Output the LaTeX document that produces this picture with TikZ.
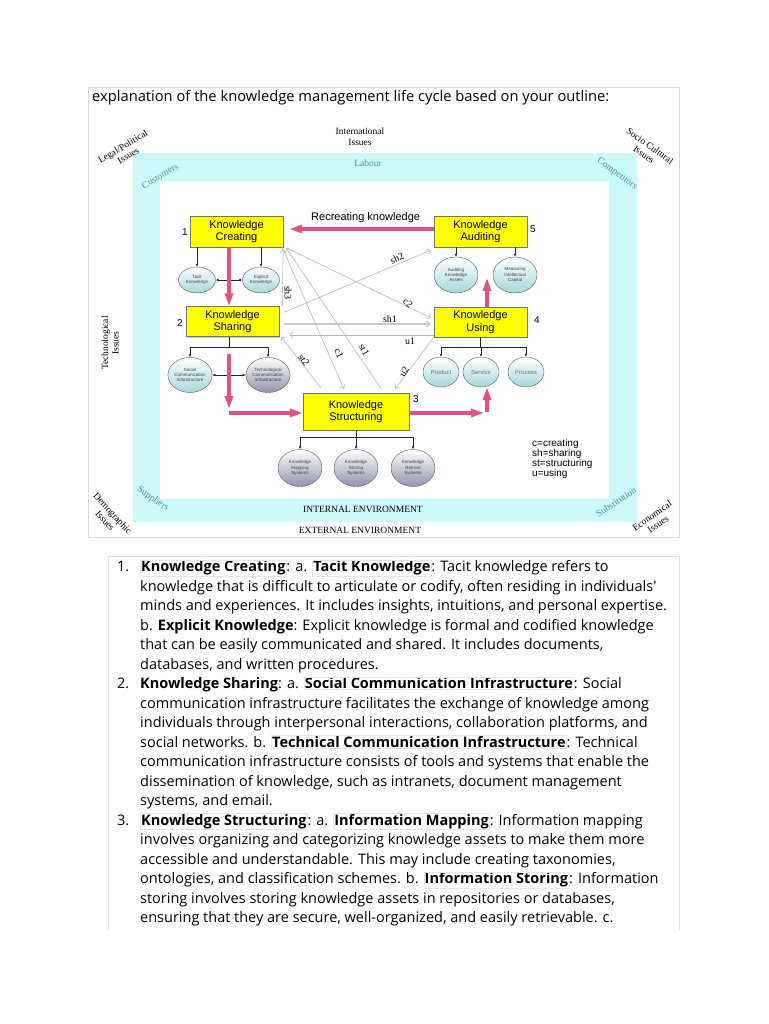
\documentclass[tikz,border=0pt]{standalone}
\usepackage{fontspec}
\setmainfont{Open Sans}
\newfontfamily\arialf{Liberation Sans}
\newfontfamily\timesf{Liberation Serif}
\usetikzlibrary{arrows.meta, shadows, shapes.geometric, positioning}
\definecolor{kyellow}{RGB}{255,255,0}
\definecolor{kpink}{RGB}{229,80,128}
\definecolor{kcyan}{RGB}{204,250,250}
\definecolor{kteal}{RGB}{70,145,170}
\definecolor{kbulb}{RGB}{165,215,218}
\definecolor{kslate}{RGB}{145,148,172}
\newcommand{\hlt}[1]{{\fboxsep=0.6pt\fboxrule=0.4pt\fcolorbox{black!10}{white}{\textbf{#1}}}}
\newcommand{\itemno}[1]{\llap{#1\hspace{11pt}}}

\begin{document}
\begin{tikzpicture}[x=1pt,y=-1pt,
  kbox/.style={draw=black!55, fill=kyellow, minimum width=93pt, minimum height=31pt, inner sep=0pt, align=center,
    font=\arialf\fontsize{11}{12.5}\selectfont, drop shadow={shadow xshift=1.2pt,shadow yshift=-1.2pt,opacity=.35}},
  bulb/.style={ellipse, draw=black!65, top color=white, bottom color=kbulb, minimum width=37pt, minimum height=26pt,
    inner sep=0pt, align=center, font=\arialf\fontsize{4.5}{5.2}\selectfont, text=black!75},
  slate/.style={bulb, bottom color=kslate},
  pinkarr/.style={kpink, line width=3.2pt, -{Triangle[length=13pt,width=8pt]}},
  thin/.style={black!85, line width=0.5pt, -{Latex[length=3pt,width=2.6pt]}},
  biarr/.style={black!85, line width=0.5pt, {Latex[length=3pt,width=2.6pt]}-{Latex[length=3pt,width=2.6pt]}},
  grayarr/.style={black!28, line width=0.6pt, -{Straight Barb[length=3.5pt,width=6pt]}},
  lbl/.style={font=\timesf\fontsize{10}{10}\selectfont, inner sep=0pt},
  num/.style={font=\arialf\fontsize{10}{10}\selectfont, inner sep=0pt},
  issue/.style={font=\timesf\fontsize{9.5}{10.5}\selectfont, align=center, inner sep=0pt},
  band/.style={issue, text=kteal}]
\fill[white] (0,0) rectangle (768,1024);
\useasboundingbox (0,0) rectangle (768,1024);

% upper frame
\draw[black!15] (88,87) rectangle (679,537);
\node[anchor=west, inner sep=0pt, font=\fontsize{14.7}{17}\selectfont] (title) at (92,98)
  {explanation of the knowledge management life cycle based on your outline:};

% environment band
\fill[kcyan] (133,153) rectangle (637,522);
\fill[white] (160,181) rectangle (609,499);

\node[issue] (intl) at (360,137) {International\\Issues};
\node[issue, rotate=31] (legal) at (125.5,151) {Legal/Political\\Issues};
\node[issue, rotate=-36] (socio) at (647,150) {Socio Cultural\\Issues};
\node[issue, rotate=90] (techi) at (110,343) {Technological\\Issues};
\node[issue, rotate=-47] (demo) at (109,517) {Demographic\\Issues};
\node[issue, rotate=35] (econ) at (655,520) {Economical\\Issues};
\node[band] (labour) at (368,163) {Labour};
\node[band, rotate=31] (cust) at (160,176) {Customers};
\node[band, rotate=-36] (comp) at (617,174) {Competitors};
\node[band, rotate=-34] (supp) at (153,499) {Suppliers};
\node[band, rotate=33] (subst) at (616,502) {Substitution};
\node[issue] (internal) at (363,509) {INTERNAL ENVIRONMENT};
\node[issue] (external) at (360,530) {EXTERNAL ENVIRONMENT};

% life cycle stages
\node[kbox] (create) at (236.5,231.5) {Knowledge\\Creating};
\node[kbox] (audit) at (480.5,231.5) {Knowledge\\Auditing};
\node[kbox, minimum height=30pt] (share) at (232.5,321.5) {Knowledge\\Sharing};
\node[kbox, minimum height=30pt] (use) at (480.5,322) {Knowledge\\Using};
\node[kbox, minimum width=106pt, minimum height=37pt] (struct) at (356,411.5) {Knowledge\\Structuring};
\node[num] (n1) at (185,232) {1};
\node[num] (n2) at (180,323) {2};
\node[num] (n3) at (416,399) {3};
\node[num] (n4) at (537,320) {4};
\node[num] (n5) at (533,229) {5};

% sub elements
\node[bulb] (tacit) at (197,280) {Tacit\\Knowledge};
\node[bulb] (explicit) at (261,280) {Explicit\\Knowledge};
\node[bulb, minimum width=42pt, minimum height=35pt] (social) at (190,375) {Social\\Communication\\Infrastructure};
\node[slate, minimum width=42pt, minimum height=35pt] (techno) at (268,375) {Technological\\Communication\\Infrastructure};
\node[bulb, minimum width=44pt, minimum height=36pt] (assets) at (456,275) {Auditing\\Knowledge\\Assets};
\node[bulb, minimum width=44pt, minimum height=36pt] (capital) at (515,275) {Measuring\\Intellectual\\Capital};
\node[bulb, minimum width=36pt, minimum height=30pt, font=\arialf\fontsize{6}{7}\selectfont, text=black!55] (product) at (441,372) {Product};
\node[bulb, minimum width=36pt, minimum height=30pt, font=\arialf\fontsize{6}{7}\selectfont, text=black!55] (service) at (481,372) {Service};
\node[bulb, minimum width=36pt, minimum height=30pt, font=\arialf\fontsize{6}{7}\selectfont, text=black!55] (process) at (526,372) {Process};
\node[slate, minimum width=44pt, minimum height=37pt] (mapping) at (300,468) {Knowledge\\Mapping\\Systems};
\node[slate, minimum width=44pt, minimum height=37pt] (storing) at (356,468) {Knowledge\\Storing\\Systems};
\node[slate, minimum width=44pt, minimum height=37pt] (retrival) at (413,468) {Knowledge\\Retrival\\Systems};

% branches
\draw[thin] (create.south -| tacit) -- (tacit);
\draw[thin] (create.south -| explicit) -- (explicit);
\draw[biarr] (tacit) -- (explicit);
\draw[thin] (audit.south -| assets) -- (assets);
\draw[thin] (audit.south -| capital) -- (capital);
\coordinate (sj) at (229,347);
\draw[black!85, line width=0.5pt] ([xshift=-3.5pt]share.south) -- (sj);
\draw[thin] (sj) -| (social.north);
\draw[thin] (sj) -| (techno.north);
\draw[biarr] (social) -- (techno);
\coordinate (uj) at (480.5,347);
\draw[black!85, line width=0.5pt] (use.south) -- (uj);
\draw[thin] (uj) -| (product.north);
\draw[thin] (uj) -| (service.north);
\draw[thin] (uj) -| (process.north);
\coordinate (tj) at (356,437);
\draw[black!85, line width=0.5pt] (struct.south) -- (tj);
\draw[thin] (tj) -| (mapping.north);
\draw[thin] (tj) -- (storing.north);
\draw[thin] (tj) -| (retrival.north);

% main flow
\draw[pinkarr] ([xshift=-7.5pt]create.south) -- ([xshift=-3.5pt]share.north);
\coordinate (bend) at (229,413);
\draw[pinkarr] ([xshift=-3.5pt,yshift=-17pt]share.south) -- ([yshift=4pt]bend);
\draw[pinkarr] (bend) -- ([yshift=-1.5pt]struct.west);
\coordinate (rise) at (487,413);
\draw[pinkarr] ([yshift=-1.5pt]struct.east) -- ([xshift=-3pt]rise);
\draw[pinkarr] ([yshift=1.5pt]rise) -- (rise |- service.south);
\draw[pinkarr] ([xshift=6.5pt]use.north) -- ([xshift=6.5pt,yshift=29pt]use.north);
\draw[pinkarr] ([yshift=2.5pt]audit.west) -- ([xshift=6pt,yshift=2.5pt]create.east);
\node[anchor=west, inner sep=0pt, font=\arialf\fontsize{11}{12}\selectfont] (recr) at (311,218) {Recreating knowledge};

% cross links
\draw[grayarr] ([xshift=5pt,yshift=-6pt]share.north east) -- ([xshift=-3pt,yshift=-3pt]audit.south west);
\draw[grayarr, line width=1.1pt, black!22] ([xshift=5pt,yshift=-2.5pt]share.east) -- ([xshift=-3pt,yshift=-2pt]use.west);
\draw[grayarr] ([yshift=-13pt]use.west) -- ([xshift=10pt,yshift=-13.5pt]share.east);
\draw[grayarr] ([xshift=4pt,yshift=-1pt]create.south east) -- ([xshift=-3pt,yshift=4pt]use.west);
\draw[grayarr] (use.south west) -- ([xshift=-14pt,yshift=4pt]struct.north east);
\draw[grayarr] ([xshift=18pt,yshift=5pt]struct.north west) -- ([xshift=2pt]share.south east);
\draw[grayarr] ([xshift=-1pt]create.south east) -- ([xshift=41pt,yshift=4pt]struct.north west);
\draw[grayarr] ([xshift=-28pt,yshift=4pt]struct.north east) -- ([xshift=3pt,yshift=-1pt]create.south east);
\draw[grayarr] ([xshift=3pt]share.north east) -- ([yshift=-2pt]create.south east);
\node[lbl, rotate=25] (lsh2) at (397,258) {sh2};
\node[lbl, rotate=-40] (lc2) at (408,303) {c2};
\node[lbl] (lsh1) at (390,319) {sh1};
\node[lbl] (lu1) at (410,341) {u1};
\node[lbl, rotate=-65] (lc1) at (339,353) {c1};
\node[lbl, rotate=-60] (lst1) at (364,350) {st1};
\node[lbl, rotate=-55] (lst2) at (304,360) {st2};
\node[lbl, rotate=60] (lu2) at (404,372) {u2};
\node[lbl, rotate=-90] (lsh3) at (288,293) {sh3};
\node[anchor=north west, align=left, inner sep=0pt, font=\arialf\fontsize{10}{10}\selectfont] (legend) at (532,439)
  {c=creating\\sh=sharing\\st=structuring\\u=using};

% lower text frame
\draw[black!12] (108,930) -- (108,556) -- (679,556) -- (679,930);
\node[anchor=north west, align=left, inner sep=0pt, font=\fontsize{14.5}{19.5}\selectfont] (body) at (140,559.5)
  {\itemno{1.}\hlt{Knowledge Creating}: a. \hlt{Tacit Knowledge}: Tacit knowledge refers to\\
   knowledge that is difficult to articulate or codify, often residing in individuals\textquotesingle\\
   minds and experiences. It includes insights, intuitions, and personal expertise.\\
   b. \textbf{Explicit Knowledge}: Explicit knowledge is formal and codified knowledge\\
   that can be easily communicated and shared. It includes documents,\\
   databases, and written procedures.\\
   \itemno{2.}\textbf{Knowledge Sharing}: a. \hlt{Social Communication Infrastructure}: Social\\
   communication infrastructure facilitates the exchange of knowledge among\\
   individuals through interpersonal interactions, collaboration platforms, and\\
   social networks. b. \hlt{Technical Communication Infrastructure}: Technical\\
   communication infrastructure consists of tools and systems that enable the\\
   dissemination of knowledge, such as intranets, document management\\
   systems, and email.\\
   \itemno{3.}\hlt{Knowledge Structuring}: a. \hlt{Information Mapping}: Information mapping\\
   involves organizing and categorizing knowledge assets to make them more\\
   accessible and understandable. This may include creating taxonomies,\\
   ontologies, and classification schemes. b. \hlt{Information Storing}: Information\\
   storing involves storing knowledge assets in repositories or databases,\\
   ensuring that they are secure, well-organized, and easily retrievable. c.};
\end{tikzpicture}
\end{document}
